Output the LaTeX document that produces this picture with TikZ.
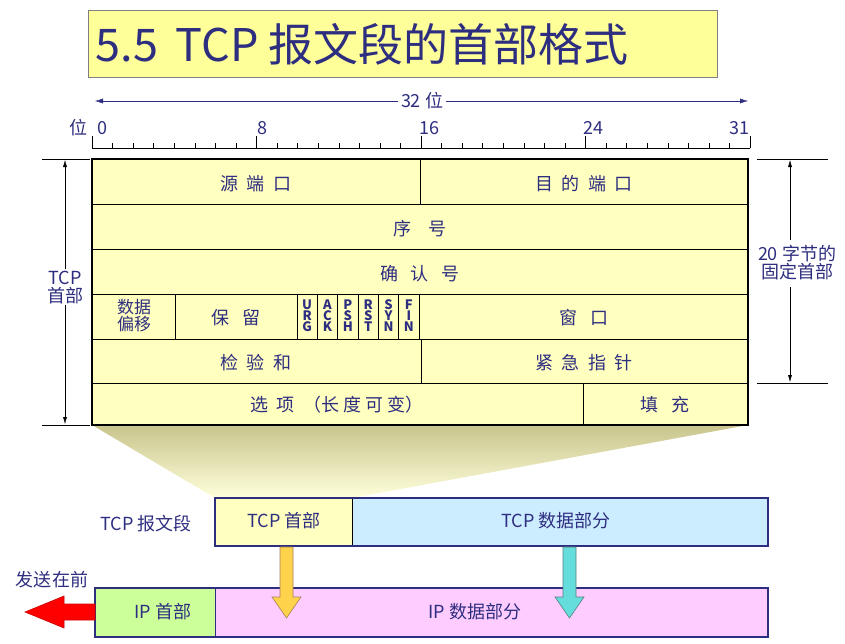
\documentclass[tikz,border=0pt]{standalone}
\usepackage{fontspec}
\setmainfont{Noto Sans CJK SC}
\usetikzlibrary{arrows.meta}
\definecolor{navy}{HTML}{2E2E80}
\definecolor{ly}{HTML}{FFFFC0}
\definecolor{ty}{HTML}{FFFF99}
\definecolor{lb}{HTML}{CCECFF}
\definecolor{lg}{HTML}{CCFF99}
\definecolor{pk}{HTML}{FFCCFF}
\definecolor{khaki}{HTML}{C8C48C}
\tikzset{
 fs/.style={font=\fontsize{#1}{#1}\selectfont},
 txt/.style={text=navy,fs=18},
 barbox/.style={draw=navy,line width=1.6pt},
 flag/.style={text=navy,font=\fontsize{13}{11}\selectfont\bfseries,align=center,inner sep=0},
}
\begin{document}
\begin{tikzpicture}[x=1pt,y=-1pt]
\useasboundingbox (0,0) rectangle (845,643);
% title
\node[draw=gray,fill=ty,minimum width=629,minimum height=67,anchor=north west,inner sep=0] (title) at (88,10) {};
\node[text=navy,fs=45,anchor=west] (tt) at (92,44) {5.5\, TCP 报文段的首部格式};
% 32 bits
\node[txt,fill=white,inner sep=3pt] (b32) at (422,101) {32 位};
\draw[navy,-{Latex[length=8pt,width=5pt]}] (b32.west) -- (95,101) coordinate (b32l);
\draw[navy,-{Latex[length=8pt,width=5pt]}] (b32.east) -- (748,101) coordinate (b32r);
% ruler
\draw[black,line width=0.6pt] (92,148) -- (750,148);
\foreach \i in {0,...,32}{
  \pgfmathsetmacro\xx{92+\i*20.5625}
  \pgfmathtruncatemacro\m{mod(\i,8)}
  \ifnum\m=0 \draw[black,line width=0.6pt] (\xx,148) -- (\xx,136);
  \else \draw[black,line width=0.4pt] (\xx,148) -- (\xx,143);\fi}
\node[txt,anchor=east] (wei) at (91,128) {位};
\node[txt,anchor=west,inner sep=1pt] (n0) at (96,128) {0};
\node[txt,anchor=west,inner sep=1pt] (n8) at (256,128) {8};
\node[txt,anchor=west,inner sep=1pt] (n16) at (418,128) {16};
\node[txt,anchor=west,inner sep=1pt] (n24) at (582,128) {24};
\node[txt,anchor=east,inner sep=1pt] (n31) at (751,128) {31};
% shadow trapezoid
\shade[top color=khaki,bottom color=ty!35!white,draw=none] (92,425) -- (748,425) -- (352,498) -- (215,498) -- cycle;
% table
\fill[ly] (92,159) rectangle (748,425);
\foreach \y in {204,249,294,339,383} \draw[black,line width=0.8pt] (92,\y) -- (748,\y);
\draw[black,line width=0.8pt] (420,159) -- (420,204);
\draw[black,line width=0.8pt] (175,294) -- (175,339);
\foreach \x in {297,317.3,337.7,358,378.3,398.7,419} \draw[black,line width=0.8pt] (\x,294) -- (\x,339);
\draw[black,line width=0.8pt] (421,339) -- (421,383);
\draw[black,line width=0.8pt] (583,383) -- (583,425);
\draw[black,line width=2pt] (92,159) rectangle (748,425);
\node[txt] (src) at (256,184) {源\ \ 端\ \ 口};
\node[txt] (dst) at (584,184) {目\ \ 的\ \ 端\ \ 口};
\node[txt] (seq) at (420,229) {序\ \ \ \ 号};
\node[txt] (ack) at (420,274) {确\ \ \ 认\ \ \ 号};
\node[txt,align=center,fs=17] (off) at (134,316) {数据\\偏移};
\node[txt] (rsv) at (236,318) {保\ \ \ 留};
\node[flag] (fU) at (307.2,316) {U\\R\\G};
\node[flag] (fA) at (327.5,316) {A\\C\\K};
\node[flag] (fP) at (347.8,316) {P\\S\\H};
\node[flag] (fR) at (368.2,316) {R\\S\\T};
\node[flag] (fS) at (388.5,316) {S\\Y\\N};
\node[flag] (fF) at (408.8,316) {F\\I\\N};
\node[txt] (win) at (584,318) {窗\ \ \ 口};
\node[txt] (chk) at (256,363) {检\ \ 验\ \ 和};
\node[txt] (urg) at (584,363) {紧\ \ 急\ \ 指\ \ 针};
\node[txt] (opt) at (337,405) {选\ \ 项\ \ （长\ 度\ 可\ 变）};
\node[txt] (pad) at (665,405) {填\ \ \ 充};
% left brace
\draw[black,line width=0.6pt] (42,159) -- (90,159) (42,425) -- (90,425);
\node[txt,align=center,fill=white,inner sep=1pt] (tcph) at (65,287) {TCP\\首部};
\draw[black,-{Latex[length=7pt,width=4pt]}] (tcph.north) -- (65,160) coordinate (lt);
\draw[black,-{Latex[length=7pt,width=4pt]}] (tcph.south) -- (65,424) coordinate (lb);
% right brace
\draw[black,line width=0.6pt] (757,159) -- (828,159) (757,383) -- (828,383);
\node[txt,align=center,fill=white,inner sep=1pt] (fix) at (797,263) {20 字节的\\固定首部};
\draw[black,-{Latex[length=7pt,width=4pt]}] (790,240) -- (790,160) coordinate (rt);
\draw[black,-{Latex[length=7pt,width=4pt]}] (790,287) -- (790,382) coordinate (rb);
% TCP segment
\fill[ly] (215,498) rectangle (352,546);
\fill[lb] (352,498) rectangle (768,546);
\draw[black,line width=0.8pt] (352,498) -- (352,546);
\draw[barbox] (215,498) rectangle (768,546);
\node[txt] (seg) at (146,524) {TCP 报文段};
\node[txt] (th) at (284,521) {TCP 首部};
\node[txt] (td) at (556,521) {TCP 数据部分};
% IP
\fill[lg] (95,588) rectangle (215,637);
\fill[pk] (215,588) rectangle (768,637);
\draw[navy,line width=1pt] (215,588) -- (215,637);
\draw[barbox] (95,588) rectangle (768,637);
\node[txt] (ih) at (163,612) {IP 首部};
\node[txt] (id) at (475,612) {IP 数据部分};
\node[text=navy,fs=18] (first) at (52,580) {发送在前};
% red arrow
\draw[red!80!black,fill=red,line width=0.6pt] (95,604) -- (64,604) -- (64,596) -- (25,612) -- (64,628) -- (64,620) -- (95,620) -- cycle;
% down arrows
\draw[gray!70!orange,fill=orange!50!yellow!70!white,line width=0.6pt] (280,547) -- (293,547) -- (293,597) -- (301,597) -- (286.5,618) -- (272,597) -- (280,597) -- cycle;
\draw[gray!70!teal,fill=teal!45!cyan!60!white,line width=0.6pt] (563,547) -- (576,547) -- (576,597) -- (584,597) -- (569.5,618) -- (555,597) -- (563,597) -- cycle;
\end{tikzpicture}
\end{document}
